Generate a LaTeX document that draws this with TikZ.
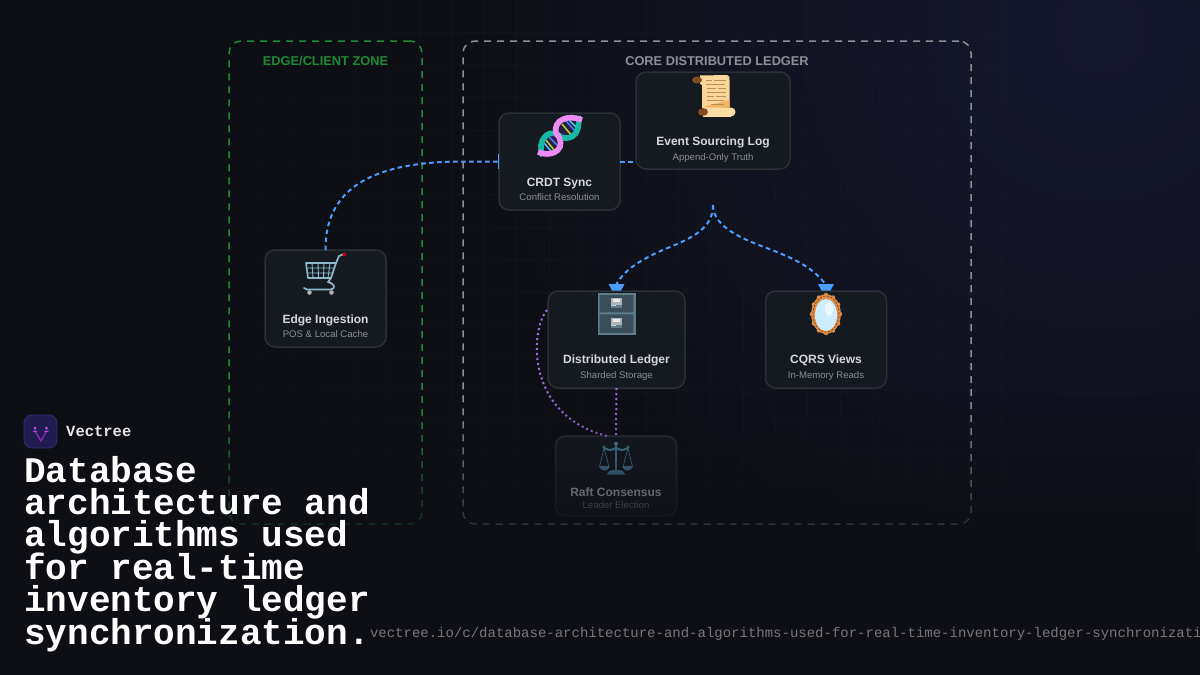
\documentclass[tikz,border=0pt]{standalone}
\usepackage{fontspec}
\setmainfont{Liberation Sans}
\newfontfamily\monof{Liberation Mono}
\usetikzlibrary{fadings}
\definecolor{bgc}{HTML}{0E0F15}
\definecolor{bgt}{HTML}{15172E}
\definecolor{gridc}{HTML}{1B1D26}
\definecolor{cardf}{HTML}{151A21}
\definecolor{cardb}{HTML}{2B3037}
\definecolor{titlec}{HTML}{D5D8DC}
\definecolor{subc}{HTML}{8B8E94}
\definecolor{flowc}{HTML}{4A9EFF}
\definecolor{purpc}{HTML}{A06CE8}
\definecolor{greenc}{HTML}{1F8A35}
\definecolor{grayc}{HTML}{8D9097}
\definecolor{dnabg}{HTML}{2A1E45}
\definecolor{cartc}{HTML}{8DB9C8}
\definecolor{scalec}{HTML}{4A86A0}
\tikzfading[name=fadedown, top color=transparent!100, bottom color=transparent!8]
\tikzset{
  x=1pt, y=-1pt,
  zonebox/.style={draw, line width=1.5pt, rounded corners=12pt, dash pattern=on 7pt off 6pt, fill=none, outer sep=0},
  zonelabel/.style={font=\fontsize{12.8}{15}\selectfont\bfseries, anchor=base, inner sep=0},
  cardbox/.style={draw=cardb, fill=cardf, line width=1.5pt, rounded corners=10pt, inner sep=0, outer sep=0, anchor=north},
  cardtitle/.style={font=\fontsize{12}{14}\selectfont\bfseries, text=titlec, anchor=base, inner sep=0},
  cardsub/.style={font=\fontsize{9.6}{11}\selectfont, text=subc, anchor=base, inner sep=0},
  flowline/.style={draw=flowc, line width=2pt, dash pattern=on 4.5pt off 3.5pt},
  syncline/.style={draw=purpc, line width=2pt, dash pattern=on 2pt off 3pt},
  headfill/.style={fill=flowc, draw=none},
  headline/.style={anchor=base west, inner sep=0, text=white, font=\monof\bfseries\fontsize{36}{36}\selectfont},
}
\newcommand{\mkcard}[9]{%
  \node[cardbox, minimum width=#4pt, minimum height=#5pt] (#1) at (#2,#3) {};
  \node[cardtitle] (#1t) at (#2,#8) {#6};
  \node[cardsub] (#1s) at (#2,#9) {#7};
}
\begin{document}
\begin{tikzpicture}
\useasboundingbox (0,0) rectangle (1200,675);
\begin{scope}
\clip (0,0) rectangle (1200,675);
\fill[bgc] (0,0) rectangle (1200,675);
% tinted glow, upper right
\shade[inner color=bgt, outer color=bgc, shading=radial] (450,-620) rectangle (1750,680);
% faint grid
\foreach \gx in {193,225,258,290,322,355,387,419,452,484,516,549,581,613,646,678,710,743,775,807,840,872,904,937,969,1001}
  \draw[gridc, line width=0.7pt, opacity=0.35] (\gx,0) -- (\gx,640);
\foreach \gy in {32,65,97,130,162,194,227,259,292,324,356,389,421,454,486,518,551,583,616}
  \draw[gridc, line width=0.7pt, opacity=0.35] (190,\gy) -- (1003,\gy);
\fill[bgc, path fading=east] (130,0) rectangle (390,675);
\fill[bgc] (0,0) rectangle (196,675);

% zones
\node[zonebox, draw=greenc, minimum width=193pt, minimum height=483pt, inner sep=0, anchor=north west] (edgezone) at (229,41) {};
\node[zonebox, draw=grayc, minimum width=508pt, minimum height=483pt, inner sep=0, anchor=north west] (corezone) at (463,41) {};
\node[zonelabel, text=greenc] (edgelabel) at (325.5,65) {EDGE/CLIENT ZONE};
\node[zonelabel, text=grayc] (corelabel) at (717,65) {CORE DISTRIBUTED LEDGER};

% cards
\mkcard{edge}{325.5}{250}{121}{97}{Edge Ingestion}{POS \& Local Cache}{323}{337}
\mkcard{crdt}{559.5}{113}{121}{97}{CRDT Sync}{Conflict Resolution}{186}{200}
\mkcard{event}{713}{72}{154}{97}{Event Sourcing Log}{Append-Only Truth}{145}{160}
\mkcard{dist}{616.5}{291}{137}{97}{Distributed Ledger}{Sharded Storage}{363}{378}
\mkcard{cqrs}{826}{291}{121}{97}{CQRS Views}{In-Memory Reads}{363}{378}
\mkcard{raft}{616}{436}{121}{80}{Raft Consensus}{Leader Election}{496}{508}

% connector anchors
\coordinate (crdtin) at (crdt.west);
\coordinate (crdtout) at (crdt.east);
\coordinate (eventin) at (636,161.5);
\coordinate (eventout) at (713,205);
\coordinate (distin) at (616,285);
\coordinate (cqrsin) at (826,285);
\coordinate (distside) at (547,310);
\coordinate (raftside) at (607,436);

% connectors
\draw[flowline] (edge.north) .. controls (325,190) and (370,161.5) .. (463,161.5) -- (crdtin);
\draw[flowline] (crdtout) -- (eventin);
\draw[flowline] (eventout) .. controls (713,228) and (693,238) .. (665,249) .. controls (640,260) and (624,270) .. (distin);
\draw[flowline] (eventout) .. controls (713,228) and (745,240) .. (772,250) .. controls (800,261) and (815,270) .. (cqrsin);
\draw[syncline] (dist.south) -- (raft.north);
\draw[syncline] (distside) .. controls (530,330) and (525,415) .. (raftside);
% clipped arrow heads
\fill[headfill] (498,154) rectangle (499.2,169);
\fill[headfill] (608.5,284) -- (624.5,284) -- (621,290.5) -- (612,290.5) -- cycle;
\fill[headfill] (818,284) -- (834,284) -- (830.5,290.5) -- (821.5,290.5) -- cycle;

% --- cart icon
\begin{scope}[line cap=round, line join=round]
\draw[cartc, line width=1.6pt] (306,263) -- (336,263) -- (331,278) -- (308,278) -- cycle;
\draw[cartc, line width=0.9pt] (306.5,268) -- (334.5,268) (307.2,273) -- (333,273)
  (312,263) -- (313,278) (318,263) -- (318.5,278) (324,263) -- (323.5,278) (330,263) -- (328,278);
\draw[cartc, line width=1.7pt] (336,263) -- (339,256) -- (344,254);
\draw[cartc, line width=1.7pt] (331,278) -- (328,282) .. controls (335,284) and (336,288) .. (331,289.5) -- (307,289.5) -- (304,288);
\fill[red!75!black] (344.5,254.5) circle (2pt);
\fill[gray!60] (309.5,292.5) circle (2.3pt) (331.5,292.5) circle (2.3pt);
\end{scope}

% --- DNA icon
\begin{scope}[line cap=butt]
\fill[dnabg] (551,143) circle (11pt) (568,128) circle (11pt);
\draw[line width=1.5pt, color={rgb,255:red,181;green,213;blue,46}] (545,139) -- (555,151) (562,124) -- (572,136);
\draw[line width=1.5pt, color={rgb,255:red,74;green,127;blue,240}] (549,137) -- (559,147) (566,121) -- (576,132);
\draw[line width=1.5pt, color={rgb,255:red,80;green,200;blue,240}] (544,143) -- (551,151) (569,120) -- (577,128);
\draw[line width=5.6pt, color={rgb,255:red,20;green,185;blue,165}] (543,156) .. controls (536,142) and (548,128) .. (558,135) .. controls (566,142) and (582,138) .. (578,116);
\draw[line width=5.6pt, color={rgb,255:red,238;green,140;blue,245}] (538,152) .. controls (555,159) and (568,146) .. (556,133) .. controls (553,120) and (568,114) .. (582,120);
\end{scope}

% --- scroll icon
\begin{scope}[line join=round]
\fill[color={rgb,255:red,250;green,214;blue,155}] (700,75.5) -- (727,75) .. controls (730,75) and (729.5,78) .. (729.5,80) -- (729.5,108) -- (702,108) -- (702,85) -- (700,84) -- cycle;
\fill[color={rgb,255:red,238;green,180;blue,100}] (703,107) -- (729.5,100) -- (729.5,108) -- cycle;
\fill[color={rgb,255:red,252;green,220;blue,165}] (703,107.5) rectangle (731,116.5);
\fill[color={rgb,255:red,252;green,220;blue,165}] (731,112) circle (4.5pt);
\fill[color={rgb,255:red,130;green,75;blue,35}] (697,80) ellipse (5pt and 3.5pt) (703,112) ellipse (5pt and 3.9pt);
\draw[color={rgb,255:red,190;green,140;blue,85}, line width=0.7pt]
 (706,80)--(712,80) (714,80)--(726,80) (706,84)--(725,84) (707,88)--(716,88) (718,88)--(726,88)
 (707,92)--(726,92) (707,96)--(714,96) (716,96)--(726,96) (707,100)--(724,100) (711,104)--(724,104);
\end{scope}

% --- cabinet icon
\begin{scope}
\fill[color={rgb,255:red,92;green,124;blue,138}] (597.5,293) rectangle (635.5,335);
\fill[color={rgb,255:red,58;green,78;blue,90}] (599.7,295) rectangle (633.3,312.3) (599.7,314.3) rectangle (633.3,332.8);
\foreach \hy in {297.5,317.5}{
  \fill[color={rgb,255:red,175;green,180;blue,185}] (611,\hy) rectangle (621.5,\hy+7);
  \fill[white!92!black] (612.5,\hy+1.8) rectangle (620,\hy+4.6);
  \fill[color={rgb,255:red,100;green,125;blue,138}] (611,\hy+7) rectangle (621.5,\hy+10.5);
  \fill[color={rgb,255:red,190;green,215;blue,225}] (611,\hy+7.4) rectangle (616,\hy+8.6);
}
\end{scope}

% --- mirror icon
\begin{scope}
\foreach \ma in {0,30,...,330}
  \fill[color={rgb,255:red,222;green,140;blue,70}] ({826+14*cos(\ma)},{314+19*sin(\ma)}) circle (2.2pt);
\fill[color={rgb,255:red,222;green,140;blue,70}] (826,314) ellipse (14.8pt and 19.8pt);
\draw[color={rgb,255:red,120;green,65;blue,25}, line width=0.7pt, dash pattern=on 2pt off 1.6pt] (826,314) ellipse (13pt and 18pt);
\fill[color={rgb,255:red,205;green,238;blue,255}] (826,315) ellipse (11pt and 16pt);
\fill[white, opacity=0.6] (829,309) ellipse (4pt and 7pt);
\end{scope}

% --- scales icon
\begin{scope}[line cap=round]
\draw[scalec, line width=2.6pt] (616,444) -- (616,471);
\fill[scalec] (607,474.5) .. controls (608,470) and (612,470) .. (616,470) .. controls (620,470) and (624,470) .. (625,474.5) -- cycle;
\draw[scalec, line width=2pt] (604,448) .. controls (610,451) and (612,450) .. (616,448) .. controls (620,450) and (622,451) .. (628,448);
\fill[scalec] (616,443.5) circle (2pt) (604,447) circle (1.7pt) (628,447) circle (1.7pt);
\draw[scalec, line width=0.7pt] (604,448) -- (599.5,467) (604,448) -- (609,467) (628,448) -- (623,467) (628,448) -- (632.5,467);
\fill[scalec] (599,466) .. controls (600,472) and (609,472) .. (610,466) -- cycle;
\fill[scalec] (622,466) .. controls (623,472) and (632,472) .. (633,466) -- cycle;
\end{scope}

% fade towards the bottom
\fill[bgc, path fading=fadedown] (0,395) rectangle (1200,555);
\fill[bgc] (0,554.5) rectangle (1200,675);

% header block
\node[draw={rgb,255:red,52;green,47;blue,110}, fill={rgb,255:red,33;green,28;blue,80}, line width=0.8pt, rounded corners=8pt, minimum width=33pt, minimum height=33pt, inner sep=0, outer sep=0] (logo) at (40.5,431.5) {};
\draw[color={rgb,255:red,140;green,40;blue,190}, line width=1.3pt] (35,431) -- (41,441) -- (46.5,431);
\draw[color={rgb,255:red,205;green,70;blue,225}, line width=1pt] (33,431) -- (37,431.5) (44.5,431.5) -- (48.5,431);
\fill[color={rgb,255:red,210;green,80;blue,230}] (35,428) circle (1.5pt) (46.5,428) circle (1.5pt);
\node[anchor=base west, inner sep=0, text={rgb,255:red,230;green,230;blue,232}, font=\monof\bfseries\fontsize{15.5}{18}\selectfont] (brand) at (66,436.5) {Vectree};
\node[headline] (head1) at (24,482.4) {Database};
\node[headline] (head2) at (24,514.6) {architecture and};
\node[headline] (head3) at (24,546.6) {algorithms used};
\node[headline] (head4) at (24,579.4) {for real-time};
\node[headline] (head5) at (24,611.6) {inventory ledger};
\node[headline] (head6) at (24,644.2) {synchronization.};
\node[anchor=base west, inner sep=0, text={rgb,255:red,118;green,118;blue,122}, font=\monof\fontsize{14}{16}\selectfont] (url) at (369.8,637.5) {vectree.io/c/database-architecture-and-algorithms-used-for-real-time-inventory-ledger-synchronization};
\end{scope}
\end{tikzpicture}
\end{document}
